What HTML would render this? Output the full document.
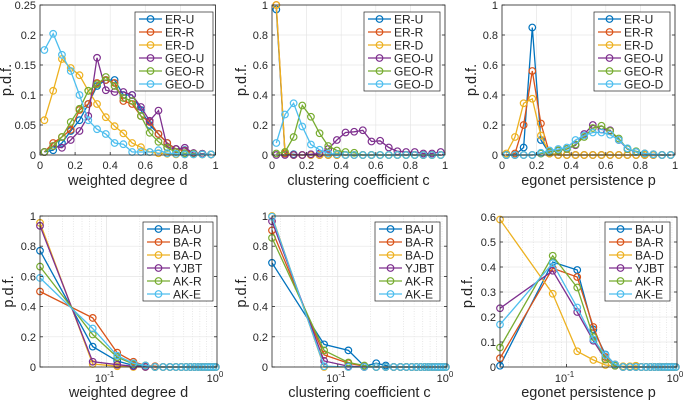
<!DOCTYPE html>
<html><head><meta charset="utf-8">
<style>
html,body{margin:0;padding:0;background:#fff;}
svg{display:block;font-family:"Liberation Sans",Arial,sans-serif;}
</style></head>
<body>
<svg id="fig" width="685" height="404" viewBox="0 0 685 404" xmlns="http://www.w3.org/2000/svg"></svg>
<script>
const xBins=[0.025,0.075,0.125,0.175,0.225,0.275,0.325,0.375,0.425,0.475,0.525,0.575,0.625,0.675,0.725,0.775,0.825,0.875,0.925,0.975];
const topNames=["ER-U","ER-R","ER-D","GEO-U","GEO-R","GEO-D"];
const botNames=["BA-U","BA-R","BA-D","YJBT","AK-R","AK-E"];
const colors=["#0072BD","#D95319","#EDB120","#7E2F8E","#77AC30","#4DBEEE"];
const degTop=[
[0.005,0.008,0.02,0.04,0.058,0.085,0.115,0.125,0.125,0.1,0.1,0.075,0.05,0.035,0.02,0.01,0.008,0.003,0.002,0.001],
[0.005,0.02,0.03,0.042,0.075,0.085,0.12,0.125,0.12,0.09,0.085,0.065,0.055,0.035,0.02,0.01,0.007,0.003,0.002,0.001],
[0.058,0.107,0.16,0.145,0.133,0.107,0.085,0.063,0.048,0.036,0.02,0.013,0.005,0.003,0.002,0.001,0.001,0.001,0.001,0.001],
[0.005,0.015,0.012,0.025,0.04,0.065,0.162,0.108,0.105,0.105,0.1,0.08,0.057,0.074,0.013,0.01,0.012,0.003,0.002,0.001],
[0.005,0.015,0.03,0.055,0.077,0.107,0.118,0.13,0.115,0.095,0.09,0.065,0.037,0.022,0.012,0.005,0.003,0.002,0.001,0.001],
[0.175,0.202,0.167,0.14,0.1,0.058,0.043,0.035,0.02,0.018,0.005,0.005,0.005,0.008,0.003,0.002,0.001,0.001,0.001,0.001]];
const cluTop=[
[0.97,0.01,0.005,0,0,0,0,0,0,0,0,0,0,0,0,0,0,0,0,0],
[1.0,0.01,0,0,0,0,0,0,0,0,0,0,0,0,0,0,0,0,0,0],
[1.0,0.02,0,0,0,0,0,0,0,0,0,0,0,0,0,0,0,0,0,0],
[0,0,0,0,0.005,0.01,0.04,0.1,0.15,0.155,0.165,0.09,0.095,0.05,0.025,0.02,0.02,0.01,0.01,0.02],
[0.01,0.02,0.12,0.33,0.255,0.145,0.06,0.03,0.02,0.015,0,0,0,0,0,0,0,0,0,0],
[0.08,0.27,0.345,0.19,0.07,0.035,0.01,0.005,0,0,0,0,0,0,0,0,0,0,0,0]];
const egoTop=[
[0,0,0.05,0.85,0.1,0.01,0,0,0,0,0,0,0,0,0,0,0,0,0,0],
[0,0.01,0.2,0.56,0.21,0.01,0,0,0,0,0,0,0,0,0,0,0,0,0,0],
[0.01,0.12,0.345,0.375,0.13,0.01,0,0,0,0,0,0,0,0,0,0,0,0,0,0],
[0,0,0,0,0.01,0.02,0.03,0.04,0.065,0.14,0.2,0.17,0.165,0.1,0.04,0.02,0.01,0.005,0,0],
[0,0,0,0,0.01,0.02,0.03,0.04,0.07,0.12,0.18,0.195,0.16,0.11,0.04,0.025,0.01,0.005,0,0],
[0,0,0,0,0.015,0.03,0.04,0.05,0.1,0.13,0.15,0.15,0.135,0.1,0.045,0.02,0.01,0.005,0,0]];
const degBot=[
[0.77,0.135,0.04,0.01,0.005,0,0,0,0,0,0,0,0,0,0,0,0,0,0,0],
[0.5,0.325,0.095,0.035,0.01,0.005,0,0,0,0,0,0,0,0,0,0,0,0,0,0],
[0.955,0.02,0.005,0,0,0,0,0,0,0,0,0,0,0,0,0,0,0,0,0],
[0.935,0.035,0.015,0.005,0,0,0,0,0,0,0,0,0,0,0,0,0,0,0,0],
[0.665,0.215,0.065,0.02,0.01,0,0,0,0,0,0,0,0,0,0,0,0,0,0,0],
[0.59,0.255,0.075,0.025,0.01,0,0,0,0,0,0,0,0,0,0,0,0,0,0,0]];
const cluBot=[
[0.69,0.15,0.11,0.005,0.025,0.01,0,0,0,0,0,0,0,0,0,0,0,0,0,0],
[0.905,0.08,0.025,0.005,0,0,0,0,0,0,0,0,0,0,0,0,0,0,0,0],
[1.0,0,0,0,0,0,0,0,0,0,0,0,0,0,0,0,0,0,0,0],
[0.965,0.04,0.005,0,0,0,0,0,0,0,0,0,0,0,0,0,0,0,0,0],
[0.855,0.11,0.03,0.01,0,0,0,0,0,0,0,0,0,0,0,0,0,0,0,0],
[0.995,0.005,0,0,0,0,0,0,0,0,0,0,0,0,0,0,0,0,0,0]];
const egoBot=[
[0.005,0.42,0.388,0.15,0.05,0.01,0,0,0,0,0,0,0,0,0,0,0,0,0,0],
[0.035,0.395,0.36,0.16,0.04,0.01,0,0,0,0,0,0,0,0,0,0,0,0,0,0],
[0.59,0.293,0.063,0.028,0.008,0.005,0.003,0.003,0.005,0,0,0,0,0,0,0,0,0,0,0],
[0.235,0.385,0.22,0.105,0.03,0.005,0,0,0,0,0,0,0,0,0,0,0,0,0,0],
[0.078,0.445,0.318,0.12,0.03,0.005,0,0,0,0,0,0,0,0,0,0,0,0,0,0],
[0.17,0.415,0.238,0.11,0.048,0.01,0,0,0,0,0,0,0,0,0,0,0,0,0,0]];
const yTicksDeg=["0","0.05","0.1","0.15","0.2","0.25"];
const yTicksUnit=["0","0.2","0.4","0.6","0.8","1"];
const yTicksEgoBot=["0","0.1","0.2","0.3","0.4","0.5","0.6"];
const xTicksLin=["0","0.2","0.4","0.6","0.8","1"];

const NS="http://www.w3.org/2000/svg";
const svg=document.getElementById('fig');
function mk(tag,attrs,parent,text){const e=document.createElementNS(NS,tag);for(const k in attrs)e.setAttribute(k,attrs[k]);if(text!==undefined)e.textContent=text;(parent||svg).appendChild(e);return e;}

function panel(cfg){
  const g=mk('g',{});
  
  
  const {L,R,T,B,ymax,log}=cfg;
  const lx0=Math.log10(0.025);
  const sx=v=>log?L+(Math.log10(v)-lx0)/(0-lx0)*(R-L):L+v*(R-L);
  const sy=v=>B-v/ymax*(B-T);
  if(log){
    const dec=[0.03,0.04,0.05,0.06,0.07,0.08,0.09,0.2,0.3,0.4,0.5,0.6,0.7,0.8,0.9];
    dec.forEach(v=>mk('line',{x1:sx(v),x2:sx(v),y1:T,y2:B,stroke:'#d8d8d8','stroke-width':0.6,'stroke-dasharray':'1,1.5'},g));
    mk('line',{x1:sx(0.1),x2:sx(0.1),y1:T,y2:B,stroke:'#e0e0e0','stroke-width':0.7},g);
  } else {
    xTicksLin.forEach(t=>{const x=sx(+t);mk('line',{x1:x,x2:x,y1:T,y2:B,stroke:'#e6e6e6','stroke-width':0.7},g);});
  }
  cfg.yt.forEach(t=>{const y=sy(+t);mk('line',{x1:L,x2:R,y1:y,y2:y,stroke:'#e6e6e6','stroke-width':0.7},g);});
  cfg.data.forEach((s,i)=>{
    const pts=s.map((v,j)=>sx(xBins[j]).toFixed(1)+','+sy(v).toFixed(1)).join(' ');
    const pl=mk('polyline',{points:pts,fill:'none',stroke:colors[i],'stroke-width':1.3},g);
    
    
    s.forEach((v,j)=>{
      const c=mk('circle',{cx:sx(xBins[j]),cy:sy(v),r:3.3,fill:'none',stroke:colors[i],'stroke-width':1.2},g);
      
      
    });
  });
  mk('rect',{x:L,y:T,width:R-L,height:B-T,fill:'none',stroke:'#262626','stroke-width':0.8},g);
  cfg.yt.forEach(t=>{const y=sy(+t);
    mk('line',{x1:L,x2:L+3,y1:y,y2:y,stroke:'#262626','stroke-width':0.8},g);
    mk('line',{x1:R,x2:R-3,y1:y,y2:y,stroke:'#262626','stroke-width':0.8},g);
    const tx=mk('text',{x:L-4,y:y+4,'font-size':11,'text-anchor':'end',fill:'#262626'},g,t);
    });
  if(log){
    [[0.1,'-1'],[1,'0']].forEach(([v,e])=>{const x=sx(v);
      mk('line',{x1:x,x2:x,y1:B,y2:B-3,stroke:'#262626','stroke-width':0.8},g);
      const tx=mk('text',{x:x-2,y:B+15,'font-size':11,'text-anchor':'middle',fill:'#262626'},g);
      
      mk('tspan',{},tx,'10');mk('tspan',{dy:-5,'font-size':8},tx,e);});
  } else {
    xTicksLin.forEach(t=>{const x=sx(+t);
      mk('line',{x1:x,x2:x,y1:B,y2:B-3,stroke:'#262626','stroke-width':0.8},g);
      const tx=mk('text',{x:x,y:B+14,'font-size':11,'text-anchor':'middle',fill:'#262626'},g,t);
      });
  }
  const xl=mk('text',{x:(L+R)/2,y:B+30,'font-size':14.5,'text-anchor':'middle',fill:'#262626'},g,cfg.xlabel);
  
  const yl=mk('text',{x:0,y:0,'font-size':14.5,'text-anchor':'middle',fill:'#262626',transform:`translate(${cfg.ylx},${(T+B)/2}) rotate(-90)`},g,'p.d.f.');
  
  const lg=mk('g',{},g);
  
  const [lx,ly,lw,lh]=cfg.leg;
  mk('rect',{x:lx,y:ly,width:lw,height:lh,fill:'#fff',stroke:'#262626','stroke-width':0.7},lg);
  cfg.names.forEach((n,i)=>{const y=ly+7+i*13;
    const e=mk('g',{},lg);
    
    mk('line',{x1:lx+4,x2:lx+27,y1:y,y2:y,stroke:colors[i],'stroke-width':1.3},e);
    mk('circle',{cx:lx+15.5,cy:y,r:3.3,fill:'none',stroke:colors[i],'stroke-width':1.2},e);
    mk('text',{x:lx+30,y:y+4.3,'font-size':12,fill:'#262626'},e,n);});
}
panel({name:'panel-weighted-degree-top',L:40,R:215.5,T:5,B:155,ymax:0.25,log:false,data:degTop,names:topNames,yt:yTicksDeg,xlabel:'weighted degree d',ylx:11,leg:[135,12,78,79]});
panel({name:'panel-clustering-top',L:272,R:445,T:5,B:155,ymax:1,log:false,data:cluTop,names:topNames,yt:yTicksUnit,xlabel:'clustering coefficient c',ylx:246,leg:[364,12,76,79]});
panel({name:'panel-egonet-top',L:502,R:675,T:5,B:155,ymax:1,log:false,data:egoTop,names:topNames,yt:yTicksUnit,xlabel:'egonet persistence p',ylx:476,leg:[594,12,76,79]});
panel({name:'panel-weighted-degree-bottom',L:40,R:217,T:216,B:367,ymax:1,log:true,data:degBot,names:botNames,yt:yTicksUnit,xlabel:'weighted degree d',ylx:13,leg:[143,222,70,79]});
panel({name:'panel-clustering-bottom',L:272,R:447,T:216,B:367,ymax:1,log:true,data:cluBot,names:botNames,yt:yTicksUnit,xlabel:'clustering coefficient c',ylx:246,leg:[375,222,65,79]});
panel({name:'panel-egonet-bottom',L:500,R:677,T:217,B:367,ymax:0.6,log:true,data:egoBot,names:botNames,yt:yTicksEgoBot,xlabel:'egonet persistence p',ylx:472,leg:[605,222,65,79]});
</script>
</body></html>
